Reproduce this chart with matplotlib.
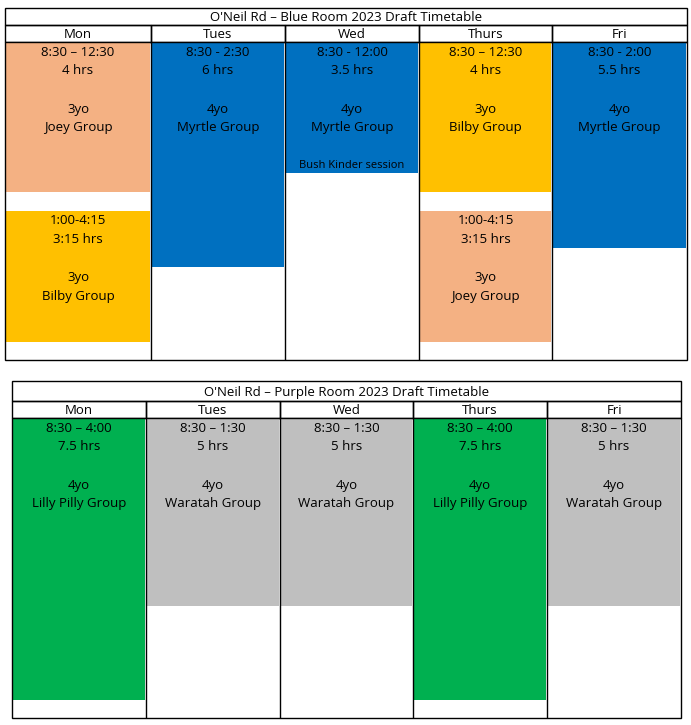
import matplotlib
matplotlib.use("Agg")
import matplotlib.pyplot as plt
from matplotlib.patches import Rectangle

plt.rcParams['font.family'] = ['Open Sans', 'DejaVu Sans']

days = ["Mon", "Tues", "Wed", "Thurs", "Fri"]

# blocks: (day index, start hours after 8:30, end hours after 8:30, lines, colour)
blue_title = "O'Neil Rd \u2013 Blue Room 2023 Draft Timetable"
blue_blocks = [
    (0, 0.0, 4.0, ["8:30 \u2013 12:30", "4 hrs", "", "3yo", "Joey Group"], "#F4B183"),
    (0, 4.5, 8.0, ["1:00-4:15", "3:15 hrs", "", "3yo", "Bilby Group"], "#FFC000"),
    (1, 0.0, 6.0, ["8:30 - 2:30", "6 hrs", "", "4yo", "Myrtle Group"], "#0070C0"),
    (2, 0.0, 3.5, ["8:30 - 12:00", "3.5 hrs", "", "4yo", "Myrtle Group"], "#0070C0"),
    (3, 0.0, 4.0, ["8:30 \u2013 12:30", "4 hrs", "", "3yo", "Bilby Group"], "#FFC000"),
    (3, 4.5, 8.0, ["1:00-4:15", "3:15 hrs", "", "3yo", "Joey Group"], "#F4B183"),
    (4, 0.0, 5.5, ["8:30 - 2:00", "5.5 hrs", "", "4yo", "Myrtle Group"], "#0070C0"),
]
blue_note = (2, 3.3, "Bush Kinder session")

purple_title = "O'Neil Rd \u2013 Purple Room 2023 Draft Timetable"
purple_blocks = [
    (0, 0.0, 7.5, ["8:30 \u2013 4:00", "7.5 hrs", "", "4yo", "Lilly Pilly Group"], "#00B050"),
    (1, 0.0, 5.0, ["8:30 \u2013 1:30", "5 hrs", "", "4yo", "Waratah Group"], "#BFBFBF"),
    (2, 0.0, 5.0, ["8:30 \u2013 1:30", "5 hrs", "", "4yo", "Waratah Group"], "#BFBFBF"),
    (3, 0.0, 7.5, ["8:30 \u2013 4:00", "7.5 hrs", "", "4yo", "Lilly Pilly Group"], "#00B050"),
    (4, 0.0, 5.0, ["8:30 \u2013 1:30", "5 hrs", "", "4yo", "Waratah Group"], "#BFBFBF"),
]

W, H = 691, 725
fig = plt.figure(figsize=(W/100, H/100), dpi=100)

def pax(x0, y0, x1, y1):
    return fig.add_axes([x0/W, 1-y1/H, (x1-x0)/W, (y1-y0)/H])

def table(xedges, ytitle, yhead, ybody, ybot, pxhr, title, blocks, note=None):
    x0, x1 = xedges[0], xedges[-1]
    # title
    a = pax(x0, ytitle, x1, yhead)
    a.set_xlim(0, 1); a.set_ylim(0, 1); a.axis("off")
    a.add_patch(Rectangle((0, 0), 1, 1, fill=False, lw=1, ec="black", clip_on=False))
    a.text(0.5, 0.45, title, ha="center", va="center", fontsize=9.5)
    # header
    a = pax(x0, yhead, x1, ybody)
    a.set_xlim(xedges[0], xedges[-1]); a.set_ylim(0, 1); a.axis("off")
    for i, d in enumerate(days):
        a.add_patch(Rectangle((xedges[i], 0), xedges[i+1]-xedges[i], 1, fill=False, lw=1, ec="black", clip_on=False))
        a.text((xedges[i]+xedges[i+1])/2, 0.45, d, ha="center", va="center", fontsize=9.5)
    # body
    a = pax(x0, ybody, x1, ybot)
    hrs = (ybot-ybody)/pxhr
    a.set_xlim(xedges[0], xedges[-1]); a.set_ylim(hrs, 0); a.axis("off")
    step = 19/pxhr
    for d, s, e, lines, c in blocks:
        a.add_patch(Rectangle((xedges[d]+1, s), xedges[d+1]-xedges[d]-2, e-s, color=c, lw=0))
        cx = (xedges[d]+xedges[d+1])/2
        for k, t in enumerate(lines):
            a.text(cx, s + 10/pxhr + k*step, t, ha="center", va="center", fontsize=9.5)
    if note:
        d, y, t = note
        a.text((xedges[d]+xedges[d+1])/2, y, t, ha="center", va="center", fontsize=8)
    a.add_patch(Rectangle((xedges[0], 0), xedges[-1]-xedges[0], hrs, fill=False, lw=1, ec="black", clip_on=False))
    for xe in xedges[1:-1]:
        a.plot([xe, xe], [0, hrs], color="black", lw=1)

table([5, 151, 285, 419, 552, 687], 8, 25, 42, 360, 37.5, blue_title, blue_blocks, blue_note)
table([12, 146, 280, 413, 547, 681], 381, 401, 418, 718, 37.6, purple_title, purple_blocks)

fig.savefig("out.png", dpi=100)
